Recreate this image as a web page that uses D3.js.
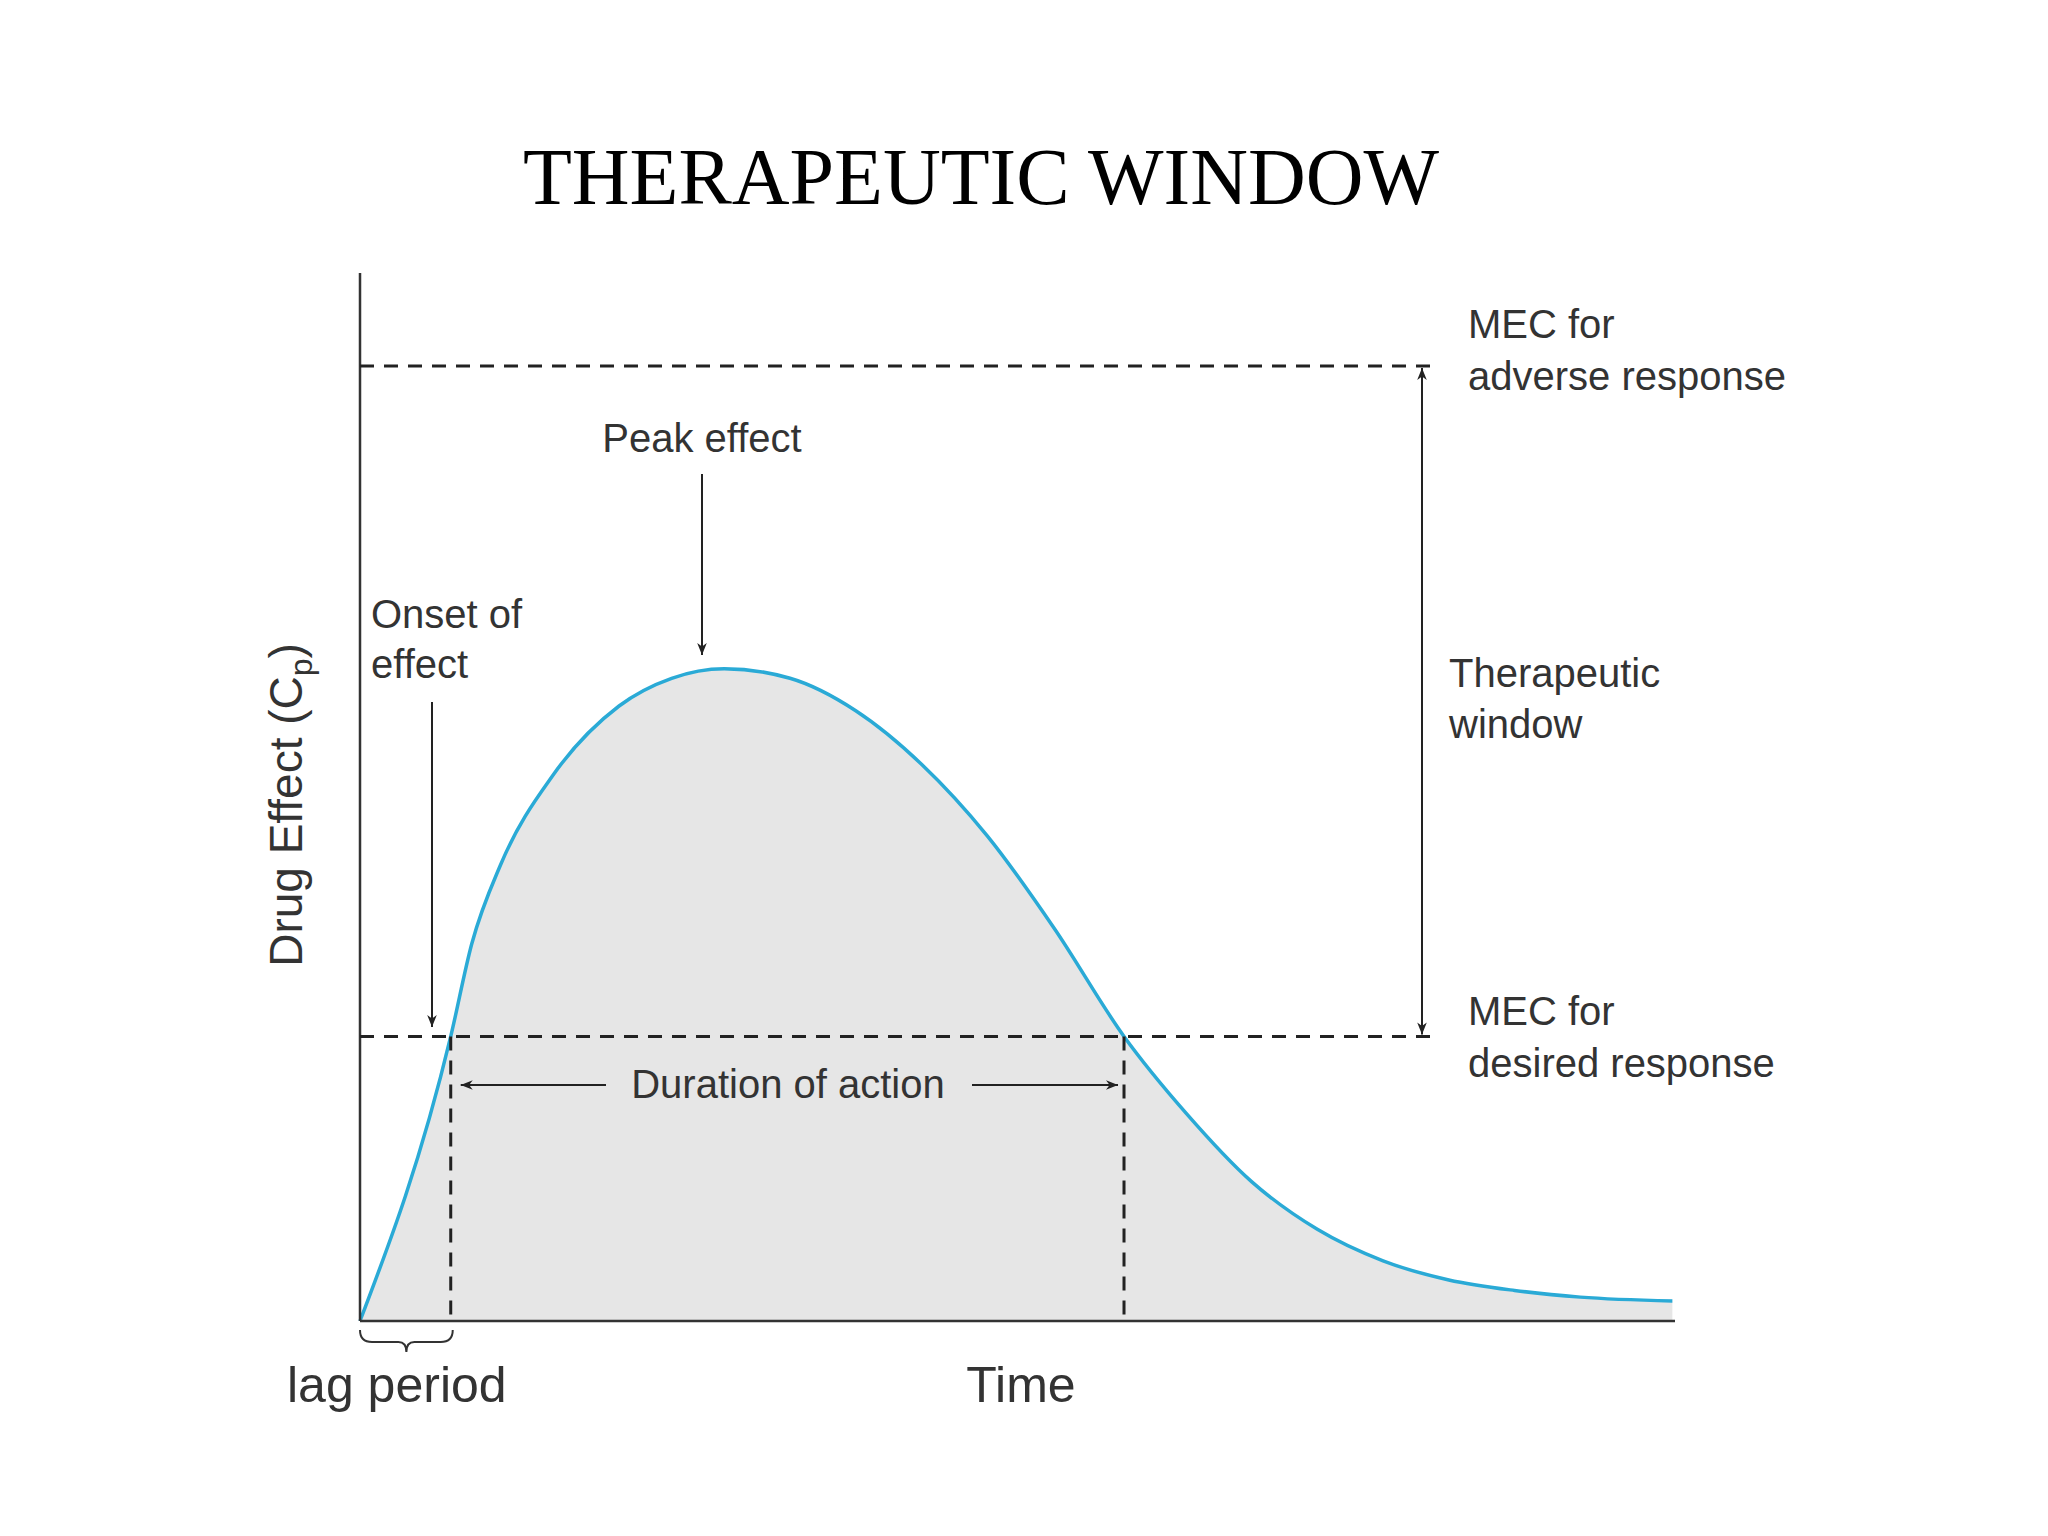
<!DOCTYPE html>
<html><head><meta charset="utf-8">
<script src="https://cdn.jsdelivr.net/npm/d3@7"></script>
<style>body{margin:0;background:#fff}</style></head>
<body><svg id="c" width="2048" height="1536"></svg>
<script>
const timeVals  = [0, 6.9, 8.5, 10.7, 14.7, 19.7, 23.7, 27.7, 32.7, 37.7, 42.7, 47.7, 52.8, 58.1, 62.8, 67.8, 72.8, 77.8, 82.8, 87.8, 92.8, 99.8];
const effectVals= [0, 29.8, 39.5, 47.8, 57.2, 64.4, 67.3, 68.3, 67.3, 63.9, 58.3, 50.8, 41.1, 29.8, 21.8, 14.6, 9.6, 6.3, 4.3, 3.2, 2.5, 2.1];
const mecDesired = 29.8, mecAdverse = 100;
const onsetT = 6.9, offsetT = 58.1;

const svg = d3.select("#c");
const x = d3.scaleLinear().domain([0,100]).range([360,1675]);
const y = d3.scaleLinear().domain([0,100]).range([1321,366]);
const font = "Liberation Sans, Arial, sans-serif";
const txt = "#333";

svg.append("text").attr("x",981).attr("y",204).attr("text-anchor","middle")
  .attr("font-family","Liberation Serif, Times New Roman, serif").attr("font-size",80).text("THERAPEUTIC WINDOW");

const defs = svg.append("defs");
defs.append("marker").attr("id","ah").attr("viewBox","0 0 10 10").attr("refX",10).attr("refY",5)
  .attr("markerWidth",18).attr("markerHeight",12).attr("markerUnits","userSpaceOnUse").attr("orient","auto-start-reverse")
  .append("path").attr("d","M0,1 L10,5 L0,9 L3,5 Z").attr("fill","#222");

const pts = timeVals.map((t,i)=>[t,effectVals[i]]);
const cv = d3.curveMonotoneX;
svg.append("path").datum(pts).attr("fill","#e6e6e6")
  .attr("d", d3.area().x(d=>x(d[0])).y0(y(0)).y1(d=>y(d[1])).curve(cv));
svg.append("path").datum(pts).attr("fill","none").attr("stroke","#2aaad6").attr("stroke-width",3.5)
  .attr("d", d3.line().x(d=>x(d[0])).y(d=>y(d[1])).curve(cv));

svg.append("line").attr("x1",x(0)).attr("x2",x(0)).attr("y1",273).attr("y2",y(0)).attr("stroke","#333").attr("stroke-width",2.5);
svg.append("line").attr("x1",x(0)).attr("x2",x(100)).attr("y1",y(0)).attr("y2",y(0)).attr("stroke","#333").attr("stroke-width",2.5);

const dash = "14,10";
[mecAdverse, mecDesired].forEach(v=>svg.append("line").attr("x1",x(0)).attr("x2",1433).attr("y1",y(v)).attr("y2",y(v))
  .attr("stroke","#222").attr("stroke-width",3).attr("stroke-dasharray",dash));
[onsetT, offsetT].forEach(t=>svg.append("line").attr("x1",x(t)).attr("x2",x(t)).attr("y1",y(mecDesired)).attr("y2",y(0))
  .attr("stroke","#222").attr("stroke-width",3).attr("stroke-dasharray",dash));

function arrow(x1,y1,x2,y2,both){
  const l=svg.append("line").attr("x1",x1).attr("y1",y1).attr("x2",x2).attr("y2",y2).attr("stroke","#222").attr("stroke-width",2)
    .attr("marker-end","url(#ah)");
  if(both) l.attr("marker-start","url(#ah)");
}
arrow(1422,y(mecAdverse)+2,1422,y(mecDesired)-2,true);
arrow(702,474,702,655);
arrow(432,702,432,1027);
arrow(606,1085,x(onsetT)+10,1085);
arrow(972,1085,x(offsetT)-6,1085);

function label(lines,xx,ys,anchor,size){
  lines.forEach((s,i)=>svg.append("text").attr("x",xx).attr("y",ys[i]).attr("text-anchor",anchor||"start")
    .attr("font-family",font).attr("font-size",size||40).attr("fill",txt).text(s));
}
label(["Peak effect"],702,[452],"middle");
label(["Onset of","effect"],371,[628,678]);
label(["MEC for","adverse response"],1468,[338,390]);
label(["Therapeutic","window"],1449,[687,738]);
label(["MEC for","desired response"],1468,[1025,1077]);
label(["Duration of action"],788,[1098],"middle");
label(["lag period"],287,[1402],"start",50);
label(["Time"],1021,[1402],"middle",50);

const yl = svg.append("text").attr("transform","translate(302,805) rotate(-90)").attr("text-anchor","middle")
  .attr("font-family",font).attr("font-size",46).attr("fill",txt);
yl.append("tspan").text("Drug Effect (C");
yl.append("tspan").attr("font-size",32).attr("dy",10).text("p");
yl.append("tspan").attr("dy",-10).text(")");

const bx0=x(0), bx1=x(onsetT)+2, bm=(bx0+bx1)/2;
svg.append("path").attr("fill","none").attr("stroke","#333").attr("stroke-width",2)
  .attr("d",`M${bx0},1330 Q${bx0},1342 ${bx0+12},1342 L${bm-8},1342 Q${bm},1342 ${bm},1352 Q${bm},1342 ${bm+8},1342 L${bx1-12},1342 Q${bx1},1342 ${bx1},1330`);
</script></body></html>
